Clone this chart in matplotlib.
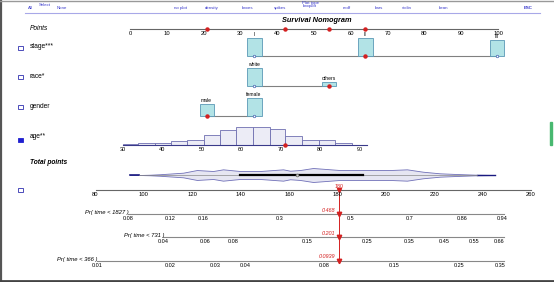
import numpy as np
import matplotlib.pyplot as plt
from matplotlib.patches import Rectangle

plt.rcParams['font.family'] = ['Liberation Sans', 'DejaVu Sans']

# ---- data ----
menu_items = ['All', 'Select', 'None', 'no plot', 'density', 'boxes', 'spikes',
              'Plot type\nboxplot', 'ecdf', 'bars', 'violin', 'bean', 'ESC']
menu_x = [30, 45, 62, 180, 212, 248, 280, 310, 347, 379, 407, 444, 528]

points_ticks = list(range(0, 101, 10))

stage_levels = ['I', 'II', 'III']
stage_points = [33.7, 63.9, 99.6]
stage_freq = [0.35, 0.35, 0.31]

race_levels = ['white', 'others']
race_points = [33.7, 54.0]
race_freq = [0.8, 0.2]

gender_levels = ['male', 'female']
gender_points = [20.8, 33.7]
gender_freq = [0.4, 0.6]

age_ticks = [30, 40, 50, 60, 70, 80, 90]
age_edges = [30, 33.8, 38.1, 42.3, 46.3, 50.5, 54.6, 58.8, 63.1, 67.3,
             71.2, 75.4, 79.7, 83.9, 88.1, 92.0]
age_counts = [2, 5, 7, 11, 15, 30, 45, 55, 53, 47, 27, 15, 15, 5, 1]

total_ticks = list(range(80, 261, 20))
violin_tp = [94.3, 98, 102.5, 106.7, 116.2, 121.9, 128.6, 132.7, 139.7, 148,
             157.5, 160.4, 164.5, 169.9, 181, 190.5, 201.7, 208.7, 215.3,
             222.3, 229.3, 237.6, 245]
violin_dens = [0, 0, 0.04, 0.11, 0.33, 0.71, 0.57, 0.81, 0.57, 0.57, 0.81,
               0.61, 0.71, 1.0, 0.71, 0.71, 0.71, 0.81, 0.47, 0.24, 0.14,
               0.04, 0]
total_q1, total_med, total_q3 = 139.7, 163.3, 190.5
total_min, total_max = 94.3, 245.0

# selected patient: male, age 71, race others, stage II
pat_stage, pat_race, pat_gender, pat_age = 'II', 'others', 'male', 71

surv_labels = ['Pr( time < 1827 )', 'Pr( time < 731 )', 'Pr( time < 366 )']
surv_ticks = [
    [0.08, 0.12, 0.16, 0.3, 0.5, 0.7, 0.86, 0.94],
    [0.04, 0.06, 0.08, 0.15, 0.25, 0.35, 0.45, 0.55, 0.66],
    [0.01, 0.02, 0.03, 0.04, 0.08, 0.15, 0.25, 0.35],
]
surv_tick_tp = [
    [93.4, 110.8, 124.4, 156.2, 185.2, 210.0, 231.4, 248.0],
    [107.9, 125.2, 136.8, 167.4, 192.2, 209.5, 224.0, 236.4, 246.7],
    [80.6, 110.8, 129.4, 141.8, 174.4, 203.3, 230.2, 247.1],
]
pat_prob = [0.468, 0.201, 0.0939]


# ---- scales (pixel layout of the original widget) ----
def pts_x(p):
    return 130 + 3.68 * np.asarray(p, dtype=float)

def age_x(a):
    return 123 + 3.94 * (np.asarray(a, dtype=float) - 30)

def tot_x(t):
    return 95.5 + 2.42 * (np.asarray(t, dtype=float) - 80)


fig = plt.figure(figsize=(5.54, 2.82), dpi=100)
ax = fig.add_axes([0, 0, 1, 1])
ax.set_xlim(0, 554)
ax.set_ylim(282, 0)
ax.axis('off')

blue_txt = '#3b3bcc'
box_face, box_edge = '#b2e3e6', '#5a98b6'
red = '#d42020'
grey = '#808080'

# frame
ax.plot([0.8, 0.8], [0, 282], color='#555555', lw=1.6)
ax.plot([0, 554], [0.5, 0.5], color='#999999', lw=1)
ax.plot([0, 554], [280.5, 280.5], color='#444444', lw=2)

# menu bar
for lab, mx in zip(menu_items, menu_x):
    yy = 4.5 if lab in ('Select', 'Plot type\nboxplot') else 8
    ax.text(mx, yy, lab, fontsize=3.2, color=blue_txt, ha='center', va='center',
            linespacing=0.8, fontweight='bold' if lab == 'ESC' else 'normal')
ax.plot([25, 540], [13, 13], color='#a8a8e8', lw=0.8)

ax.text(282, 20, 'Survival Nomogram', fontsize=5.3, fontweight='bold',
        style='italic', ha='left', va='center')

# Points axis
ax.text(30, 28, 'Points', fontsize=4.8, style='italic', va='center')
ax.plot(pts_x([0, 100]), [29.3, 29.3], color='#666666', lw=0.8)
for t in points_ticks:
    ax.text(pts_x(t), 33.5, str(t), fontsize=4.2, ha='center', va='center')


def factor_row(levels, pts, freq, line_y, selected, label, lab_y):
    ax.text(30, lab_y, label, fontsize=4.8, va='center')
    ax.add_patch(Rectangle((18, lab_y - 1.5), 4.5, 4.5, fill=False,
                           edgecolor='#3030b0', lw=0.6))
    xs = pts_x(pts)
    ax.plot([xs.min(), xs.max()], [line_y, line_y], color=grey, lw=0.8, zorder=1)
    fmax = max(freq)
    for lev, x, f in zip(levels, xs, freq):
        h = 18 * f / fmax
        ax.add_patch(Rectangle((x - 7, line_y - h), 14.5, h, facecolor=box_face,
                               edgecolor=box_edge, lw=0.6, zorder=2))
        ax.text(x, line_y - h - 3.3, lev, fontsize=3.6, ha='center', va='center')
        if lev == selected:
            ax.plot(x, line_y, 'o', color=red, ms=2.2, zorder=4)
            ax.plot(x, 29.3, 'o', color=red, ms=2.2, zorder=4)
        else:
            ax.plot(x, line_y, 'o', mfc='white', mec='#4060b0', ms=1.8,
                    mew=0.5, zorder=3)


factor_row(stage_levels, stage_points, stage_freq, 56, pat_stage, 'stage***', 47)
factor_row(race_levels, race_points, race_freq, 86, pat_race, 'race*', 76)
factor_row(gender_levels, gender_points, gender_freq, 116, pat_gender, 'gender', 106)

# age histogram
ax.text(30, 136.5, 'age**', fontsize=4.8, va='center')
ax.add_patch(Rectangle((18, 137.5), 4.5, 4.5, facecolor='#1f1fd0',
                       edgecolor='#1f1fd0', lw=0.6))
edges = age_x(age_edges)
cmax = max(age_counts)
heights = [18.3 * c / cmax for c in age_counts]
ax.bar(edges[:-1], [-h for h in heights], width=np.diff(edges), bottom=145,
       align='edge', color='#ececf6', edgecolor='#6f6fb0', lw=0.6)
ax.plot([edges[0], edges[-1]], [145, 145], color='#3a3a8a', lw=0.8)
for a in age_ticks:
    ax.text(age_x(a), 149.5, str(a), fontsize=4.0, ha='center', va='center')
ax.plot(age_x(pat_age), 145, 'o', color=red, ms=2.2, zorder=4)
age_pts = (age_x(pat_age) - 130) / 3.68
ax.plot(age_x(pat_age), 29.3, 'o', color=red, ms=2.2, zorder=4)

# Total points
ax.text(30, 163, 'Total points', fontsize=4.8, fontweight='bold',
        style='italic', va='center')
ax.add_patch(Rectangle((18, 187.5), 4.5, 4.5, fill=False,
                       edgecolor='#3030b0', lw=0.6))
vx = tot_x(violin_tp)
vh = 7 * np.array(violin_dens)
ax.fill_between(vx, 175 - vh, 175 + vh, color='#e6e6f2', edgecolor='#7070b8',
                lw=0.6)
ax.plot(tot_x([total_min, 98]), [175, 175], color='#1a1a80', lw=1.2)
ax.plot(tot_x([237.6, total_max]), [175, 175], color='#1a1a80', lw=1.0)
ax.plot(tot_x([98, 237.6]), [175, 175], color='#888888', lw=0.5)
ax.plot(tot_x([total_q1, total_q3]), [175, 175], color='black', lw=1.6)
ax.plot(tot_x(total_med), 175, 'o', mfc='#cccccc', mec='#666666', ms=2, mew=0.5)

ax.plot(tot_x([80, 260]), [190, 190], color='#666666', lw=0.8)
for t in total_ticks:
    ax.text(tot_x(t), 194.5, str(t), fontsize=4.2, ha='center', va='center')

pts_list = [stage_points[stage_levels.index(pat_stage)],
            race_points[race_levels.index(pat_race)],
            gender_points[gender_levels.index(pat_gender)], age_pts]
total = sum(pts_list)
tx = tot_x(total)
ax.text(tx, 187, f'{float(f"{total:.2g}"):g}', fontsize=3.8, color=red,
        ha='center', va='center')
ax.plot(tx, 190, 'v', color=red, ms=3)

# survival probability axes
surv_y = [214, 237.3, 261]
for lab, ticks, tps, yy, pv in zip(surv_labels, surv_ticks, surv_tick_tp,
                                   surv_y, pat_prob):
    xs = tot_x(tps)
    ax.plot([xs[0], max(xs[-1], tot_x(248.8))], [yy, yy], color='#888888', lw=0.8)
    ax.text(xs[0] + 1, yy - 1.5, lab, fontsize=4.2, style='italic',
            ha='right', va='center')
    for t, x in zip(ticks, xs):
        ax.text(x, yy + 4.2, f'{t:g}', fontsize=4.0, ha='center', va='center')
    ax.text(tx - 4, yy - 4, f'{pv:g}', fontsize=4.0, color=red, style='italic',
            ha='right', va='center')
    ax.plot(tx, yy, 'v', color=red, ms=3.2, zorder=5)
ax.plot([tx, tx], [190, surv_y[-1]], color=red, lw=0.7)

# green marker on the right edge
ax.add_patch(Rectangle((549.5, 122), 2.5, 23, color='#48b870'))

fig.savefig('out.png', dpi=100)
